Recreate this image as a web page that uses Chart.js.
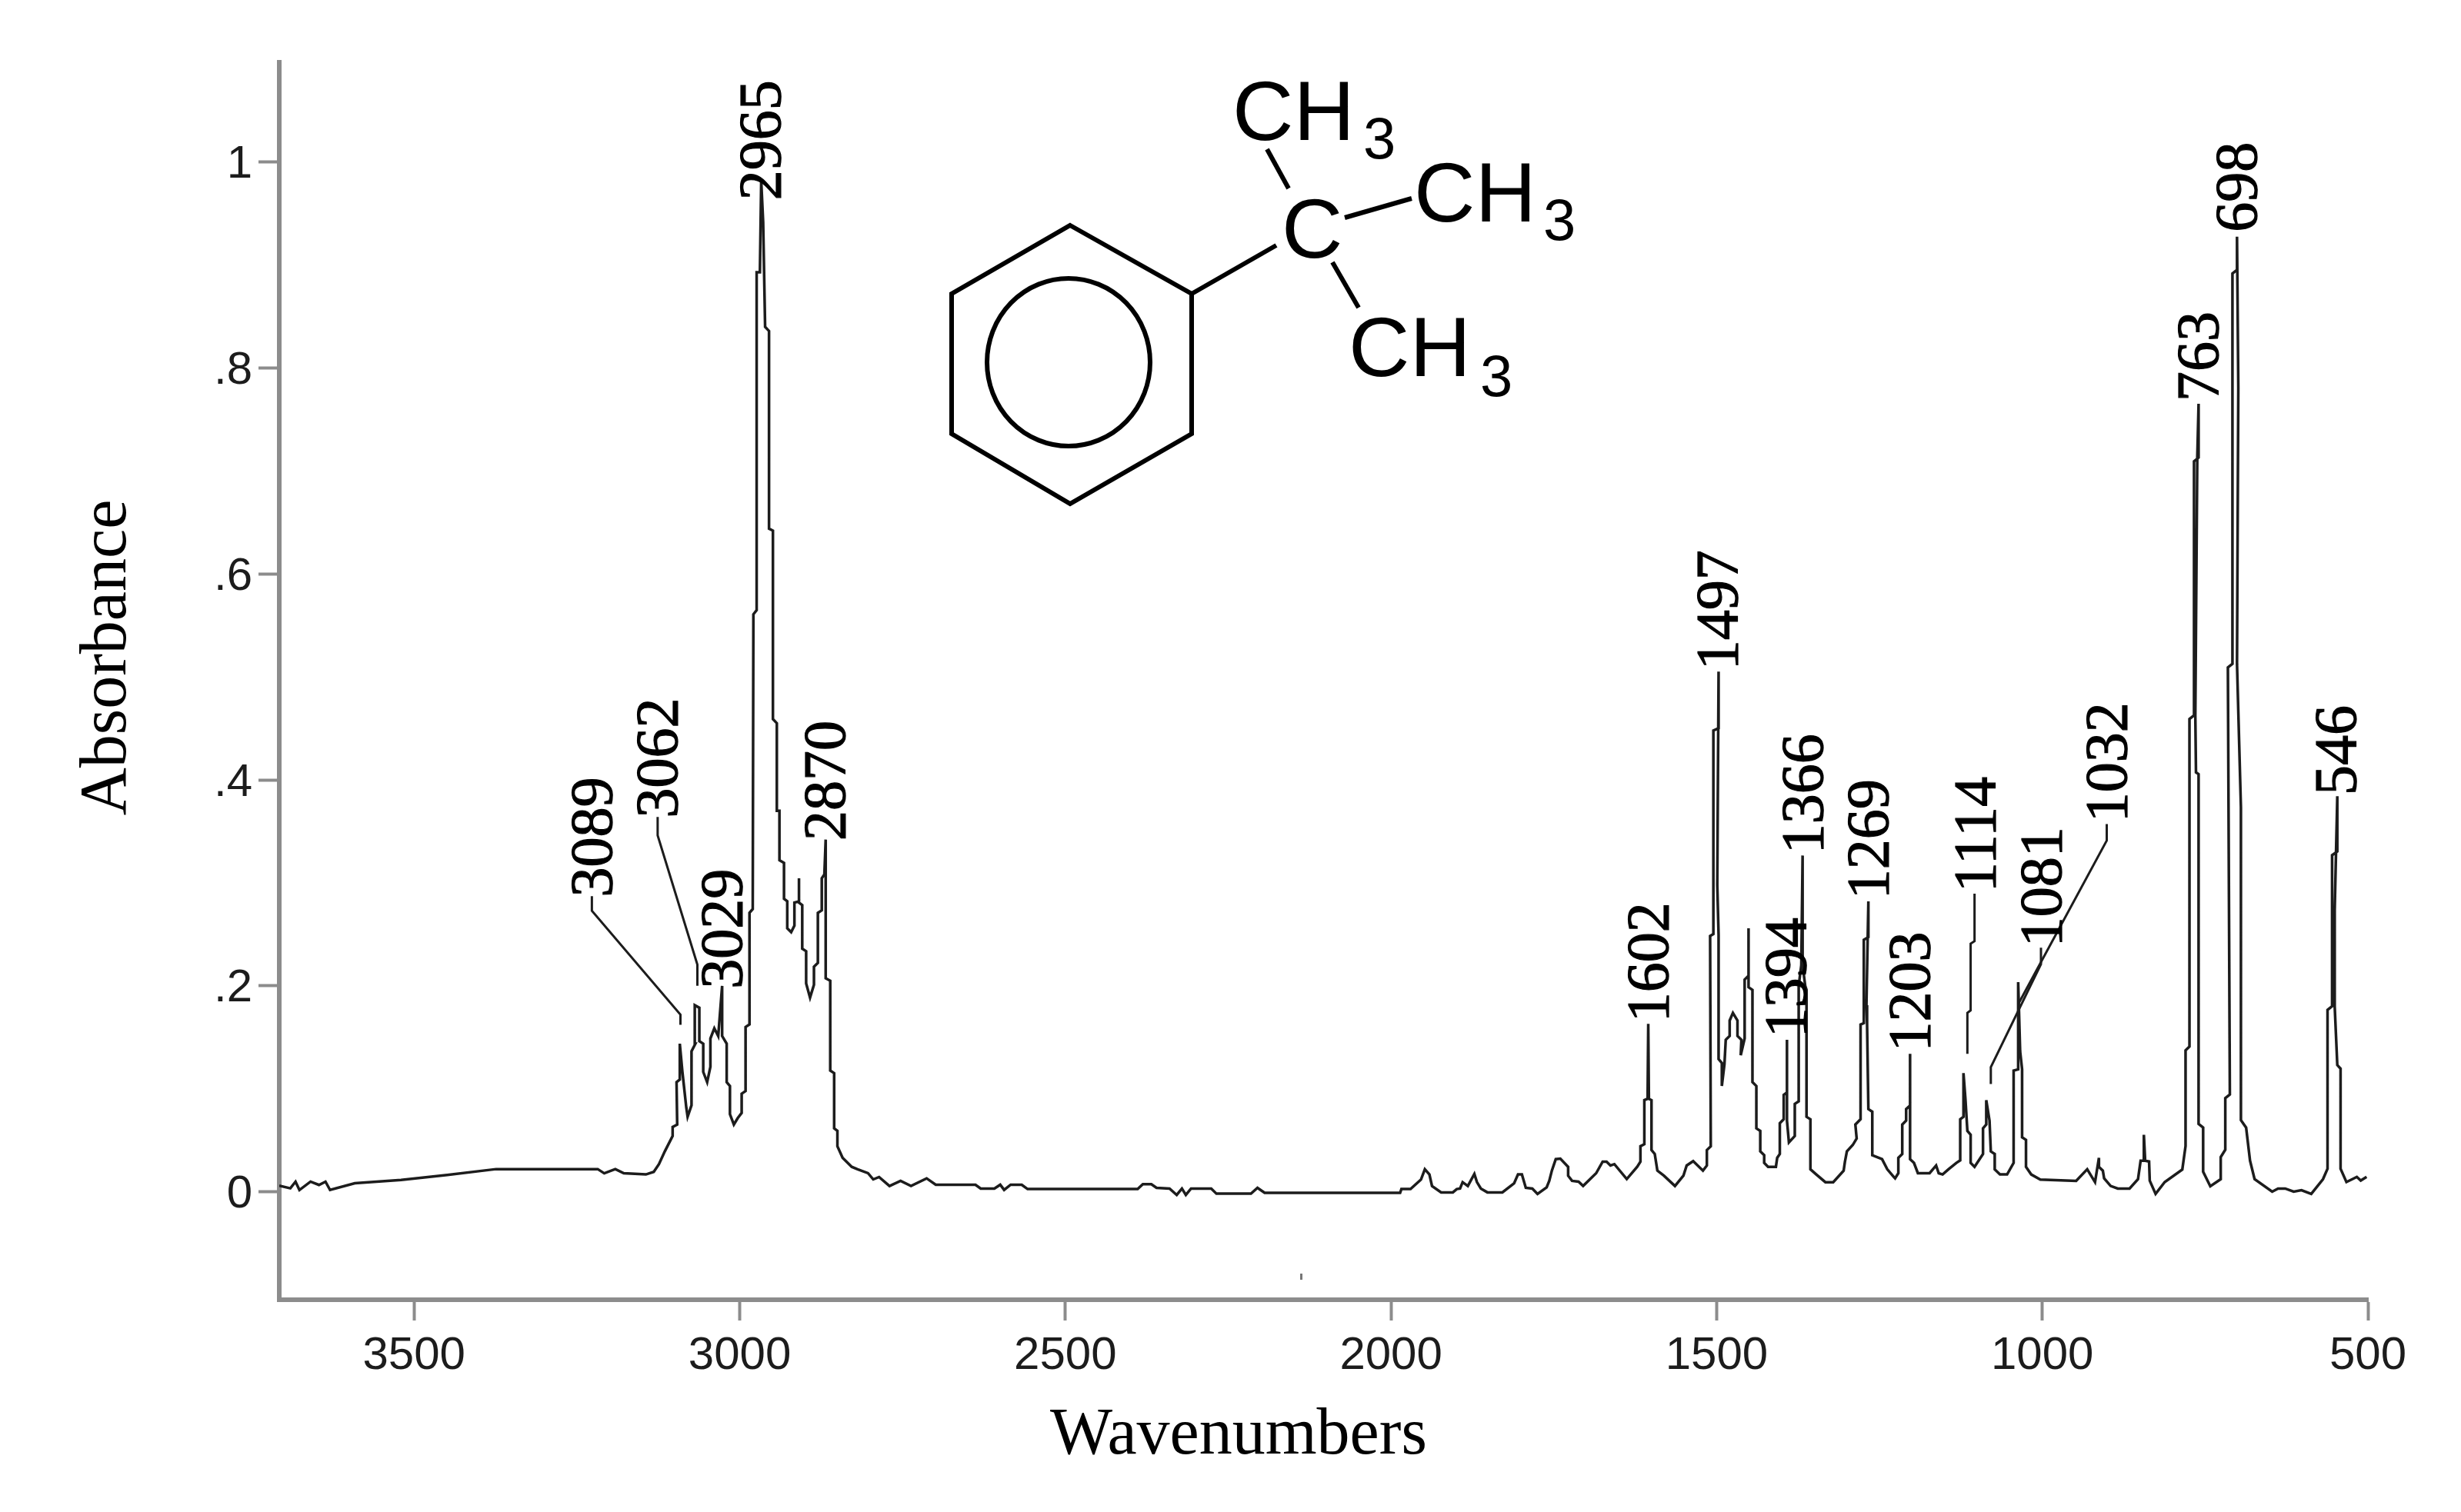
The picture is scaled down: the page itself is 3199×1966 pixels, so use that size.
<!DOCTYPE html>
<html>
<head>
<meta charset="utf-8">
<title>Absorbance spectrum</title>
<script src="https://cdn.jsdelivr.net/npm/chart.js@4"></script>
<style>
    html, body { margin: 0; background: #fff; }
    canvas { display: block; }
</style>
</head>
<body>
<canvas id="spectrum" width="3199" height="1966"></canvas>
<script>
// spectrum trace (same count per line in both arrays)
const wavenumbers = [
    3707, 3690, 3682, 3676, 3659, 3646, 3636, 3629, 3591, 3520, 3449, 3374,
    3218, 3208, 3191, 3178, 3144, 3132, 3124, 3115, 3103, 3103, 3096, 3097,
    3092, 3092, 3088, 3082, 3080, 3074, 3074, 3068, 3069, 3062, 3062, 3056,
    3056, 3050, 3045, 3045, 3039, 3033, 3027, 3027, 3020, 3020, 3015, 3015,
    3009, 3003, 2997, 2997, 2991, 2991, 2985, 2985, 2980, 2979, 2974, 2974,
    2969, 2967, 2964, 2961, 2955, 2955, 2949, 2949, 2943, 2943, 2939, 2939,
    2932, 2932, 2927, 2927, 2921, 2916, 2916, 2909, 2909, 2909, 2904, 2904,
    2898, 2898, 2892, 2886, 2886, 2880, 2880, 2874, 2874, 2870, 2868, 2868,
    2861, 2861, 2855, 2855, 2850, 2850, 2842, 2828, 2819, 2803, 2795, 2786,
    2770, 2753, 2737, 2713, 2699, 2638, 2630, 2609, 2600, 2594, 2584, 2567,
    2558, 2389, 2381, 2368, 2360, 2340, 2329, 2321, 2315, 2307, 2276, 2268,
    2215, 2205, 2194, 1986, 1984, 1970, 1954, 1948, 1941, 1937, 1923, 1905,
    1899, 1894, 1890, 1882, 1872, 1868, 1862, 1852, 1829, 1811, 1805, 1799,
    1793, 1783, 1775, 1761, 1757, 1753, 1747, 1740, 1728, 1728, 1722, 1712,
    1705, 1685, 1675, 1669, 1663, 1657, 1638, 1622, 1617, 1617, 1611, 1611,
    1606, 1605, 1604, 1600, 1600, 1595, 1591, 1581, 1564, 1551, 1546, 1536,
    1521, 1515, 1515, 1509, 1510, 1505, 1505, 1497, 1497, 1499, 1497, 1497,
    1492, 1492, 1488, 1486, 1480, 1480, 1475, 1468, 1468, 1462, 1463, 1457,
    1457, 1451, 1451, 1451, 1445, 1445, 1439, 1439, 1433, 1433, 1427, 1427,
    1421, 1409, 1407, 1403, 1403, 1397, 1397, 1392, 1392, 1392, 1389, 1380,
    1380, 1374, 1374, 1370, 1368, 1368, 1364, 1362, 1362, 1356, 1356, 1347,
    1333, 1321, 1305, 1303, 1300, 1291, 1285, 1287, 1279, 1279, 1274, 1274,
    1267, 1267, 1270, 1269, 1267, 1261, 1261, 1246, 1238, 1228, 1226, 1221,
    1221, 1215, 1215, 1209, 1209, 1203, 1203, 1203, 1203, 1197, 1191, 1173,
    1163, 1159, 1153, 1144, 1132, 1126, 1126, 1121, 1121, 1118, 1115, 1110,
    1110, 1104, 1091, 1091, 1086, 1086, 1081, 1079, 1073, 1073, 1065, 1054,
    1044, 1044, 1037, 1037, 1034, 1031, 1031, 1025, 1025, 1017, 1003, 948,
    931, 919, 913, 913, 907, 905, 895, 884, 866, 853, 849, 844,
    844, 842, 836, 835, 826, 812, 785, 780, 780, 774, 774, 767,
    767, 760, 760, 762, 765, 764, 760, 760, 753, 753, 742, 726,
    726, 719, 719, 712, 715, 708, 708, 701, 701, 699, 701, 695,
    695, 687, 681, 674, 647, 638, 627, 614, 602, 587, 569, 562,
    562, 555, 555, 547, 547, 551, 551, 547, 542, 542, 533, 524,
    517, 511, 502,
];
const absorbance = [
    .0057, .0032, .0097, .0016, .0097, .0065, .0097, .0016, .0081, .0113, .0162, .0219,
    .0219, .0178, .0219, .0178, .0167, .0192, .0267, .0391, .054, .0628, .0652, .1064,
    .1089, .1437, .1163, .0815, .0727, .0839, .1363, .1437, .1811, .1786, .1462, .1437,
    .1163, .1064, .1213, .1487, .1587, .1512, .1998, .1512, .1437, .1064, .1026, .0752,
    .0652, .0715, .0765, .0951, .0977, .1599, .1624, .2708, .2745, .5608, .5648, .893,
    .893, .982, .942, .84, .836, .644, .642, .459, .455, .37, .37, .3219,
    .3194, .2845, .282, .2558, .2521, .2584, .2808, .282, .3044, .2808, .2783, .236,
    .2335, .2023, .1885, .201, .2185, .2222, .2708, .2733, .3044, .3082, .342, .2073,
    .2048, .1176, .1151, .0615, .059, .0441, .0329, .0241, .0217, .0179, .0119, .0142,
    .0055, .0105, .0055, .0129, .0067, .0067, .003, .003, .0067, .0017, .0067, .0067,
    .0025, .0025, .0072, .0072, .0037, .003, -.0032, .003, -.0032, .003, .003, -.002,
    -.002, .0037, -.0012, -.0012, .0025, .0025, .0117, .0217, .0167, .0055, -.0007, -.0007,
    .0025, .003, .0092, .0055, .0172, .0092, .003, -.0007, -.0007, .008, .0167, .0167,
    .0037, .003, -.0022, .0042, .0105, .0204, .0316, .0321, .0241, .0155, .0105, .0097,
    .0055, .0179, .0291, .0291, .0254, .0267, .0122, .0241, .0291, .0441, .0461, .0889,
    .0902, .163, .0902, .0889, .0404, .0366, .0204, .0155, .0055, .0155, .0254, .0297,
    .0204, .0254, .0404, .0441, .2484, .2503, .4479, .4502, .5052, .2978, .2496, .1288,
    .125, .1026, .1238, .1475, .1512, .1662, .1736, .1662, .1512, .1475, .1325, .1487,
    .206, .2098, .2558, .1986, .196, .1064, .1026, .0615, .059, .0391, .0354, .0279,
    .0241, .0241, .0329, .0366, .0665, .0703, .094, .0964, .1475, .069, .0478, .054,
    .0852, .0877, .2, .22, .3265, .22, .2, .196, .0727, .0703, .0217, .0167,
    .0092, .0092, .0204, .0291, .0391, .0453, .0516, .0652, .0703, .1624, .1637, .2446,
    .2472, .282, .1811, .1624, .0802, .0777, .0354, .0316, .0217, .0142, .0129, .0179,
    .0329, .0366, .0652, .069, .0802, .0837, .1338, .0566, .0316, .0279, .0179, .0179,
    .0254, .0179, .0167, .0217, .0279, .0304, .0703, .0727, .1151, .09, .059, .0553,
    .0279, .0241, .0366, .0615, .0652, .0889, .069, .0391, .0366, .0217, .0167, .0167,
    .0279, .1176, .1188, .2035, .1363, .1188, .0528, .0503, .0241, .0167, .0117, .0105,
    .0217, .0092, .0329, .0241, .0204, .0129, .0055, .003, .003, .0121, .03, .03,
    .0552, .03, .0293, .0107, -.0022, .0093, .0215, .0443, .1373, .1409, .4591, .4626,
    .7094, .713, .7653, .713, .4626, .4073, .4055, .0658, .0622, .0194, .0052, .0121,
    .0336, .0407, .0908, .0944, .5092, .5127, .8919, .8954, .9276, .781, .5127, .3733,
    .0695, .0622, .03, .0121, 0, .003, .003, 0, .0014, -.0022, .0121, .0222,
    .1766, .1801, .3268, .3304, .3841, .2732, .18, .123, .1195, .0222, .0093, .0121,
    .0143, .0108, .0143,
];

// peak annotations: text plus where its foot sits on the axes
const peakLabels = ['3089', '3062', '3029', '2965', '2870', '1602', '1497', '1394', '1366', '1269', '1203', '1114', '1081', '1032', '763', '698', '546'];
const labelWn = [3227, 3126, 3027, 2968, 2869, 1605, 1499, 1393, 1368, 1267, 1203, 1103, 1001, 901, 760, 701, 549];
const labelAbs = [.289, .366, .2, .966, .344, .1674, .5097, .1525, .3311, .287, .139, .2937, .2407, .3617, .7706, .935, .388];

// leader lines that do not run straight into the trace
const leader3089 = [[3227, .287], [3227, .2728], [3091, .172], [3091, .162]];
const leader3062 = [[3126, .364], [3126, .346], [3065, .2205], [3065, .2]];
const leader1114 = [[1115, .1338], [1115, .1736], [1110, .1761], [1110, .2408], [1104, .2433], [1104, .2895]];
const leader1081 = [[1002, .237], [1002, .221], [1079, .121], [1079, .1046]];
const leader1032 = [[901, .357], [901, .341], [1037, .182]];
const leaders = [leader3089, leader3062, leader1114, leader1081, leader1032];

const xTicks = [3500, 3000, 2500, 2000, 1500, 1000, 500];
const yTicks = [0, .2, .4, .6, .8, 1];
const yTickText = ['0', '.2', '.4', '.6', '.8', '1'];

const INK = '#1c1c1c';
const AXIS = '#8c8c8c';
const SERIF = '"Liberation Serif", serif';
const SANS = '"Liberation Sans", sans-serif';

function drawMolecule(ctx) {
    ctx.save();
    ctx.strokeStyle = '#000';
    ctx.lineWidth = 6;
    ctx.lineJoin = 'miter';

    ctx.beginPath();
    ctx.moveTo(1391, 293);
    ctx.lineTo(1549, 382);
    ctx.lineTo(1549, 564);
    ctx.lineTo(1391, 655);
    ctx.lineTo(1237, 564);
    ctx.lineTo(1237, 382);
    ctx.closePath();
    ctx.stroke();

    ctx.beginPath();
    ctx.ellipse(1389, 471, 106, 109, 0, 0, Math.PI * 2);
    ctx.stroke();

    [[1549, 382, 1659, 319], [1647, 194, 1675, 245], [1748, 283, 1835, 258], [1732, 341, 1766, 400]].forEach(([a, b, c, d]) => {
        ctx.beginPath();
        ctx.moveTo(a, b);
        ctx.lineTo(c, d);
        ctx.stroke();
    });

    ctx.fillStyle = '#000';
    ctx.textBaseline = 'alphabetic';
    ctx.textAlign = 'left';
    ctx.font = `110px ${SANS}`;
    ctx.fillText('C', 1666, 335);
    ctx.fillText('CH', 1602, 182);
    ctx.fillText('CH', 1838, 288);
    ctx.fillText('CH', 1753, 489);
    ctx.font = `76px ${SANS}`;
    ctx.fillText('3', 1772, 206);
    ctx.fillText('3', 2006, 312);
    ctx.fillText('3', 1924, 515);
    ctx.restore();
}

const annotations = {
    id: 'annotations',
    afterDraw(chart) {
        const { ctx, scales } = chart;

        ctx.save();
        ctx.fillStyle = '#000';
        ctx.strokeStyle = '#000';
        ctx.lineWidth = 1.2;
        ctx.font = `78px ${SERIF}`;
        ctx.textAlign = 'left';
        ctx.textBaseline = 'middle';
        peakLabels.forEach((text, i) => {
            ctx.save();
            ctx.translate(scales.x.getPixelForValue(labelWn[i]), scales.y.getPixelForValue(labelAbs[i]));
            ctx.rotate(-Math.PI / 2);
            ctx.fillText(text, -4, 5);
            ctx.strokeText(text, -4, 5);
            ctx.restore();
        });

        // axis titles sit off-centre in the original
        ctx.font = `86px ${SERIF}`;
        ctx.textAlign = 'center';
        ctx.textBaseline = 'alphabetic';
        ctx.fillText('Wavenumbers', 1610, 1890);
        ctx.save();
        ctx.translate(163, 855);
        ctx.rotate(-Math.PI / 2);
        ctx.fillText('Absorbance', 0, 0);
        ctx.restore();

        // speck from the scan
        ctx.fillStyle = '#777';
        ctx.fillRect(1690, 1656, 3, 8);
        ctx.restore();

        drawMolecule(ctx);
    },
};

new Chart(document.getElementById('spectrum'), {
    type: 'scatter',
    data: {
        datasets: [
            {
                label: 'Absorbance',
                data: wavenumbers.map((x, i) => ({ x, y: absorbance[i] })),
                showLine: true,
                borderColor: INK,
                borderWidth: 3.5,
                pointRadius: 0,
                tension: 0,
            },
            ...leaders.map((points, i) => ({
                label: `leader ${i}`,
                data: points.map(([x, y]) => ({ x, y })),
                showLine: true,
                borderColor: INK,
                borderWidth: 3,
                pointRadius: 0,
                tension: 0,
            })),
        ],
    },
    options: {
        responsive: false,
        animation: false,
        devicePixelRatio: 1,
        layout: { padding: { left: 0, top: 81, right: 121, bottom: 0 } },
        plugins: { legend: { display: false }, tooltip: { enabled: false } },
        scales: {
            x: {
                type: 'linear',
                reverse: true,
                min: 500,
                max: 3707,
                afterBuildTicks(scale) { scale.ticks = xTicks.map((value) => ({ value })); },
                afterFit(scale) { scale.height = 276; },
                border: { color: AXIS, width: 6 },
                grid: { drawOnChartArea: false, color: AXIS, tickColor: AXIS, tickLength: 27, tickWidth: 4 },
                ticks: {
                    color: INK,
                    font: { family: SANS, size: 60 },
                    padding: 10,
                    maxRotation: 0,
                    autoSkip: false,
                    callback(value) { return String(value); },
                },
            },
            y: {
                type: 'linear',
                min: -0.105,
                max: 1.097,
                afterBuildTicks(scale) { scale.ticks = yTicks.map((value) => ({ value })); },
                afterFit(scale) { scale.width = 363; },
                border: { color: AXIS, width: 6 },
                grid: { drawOnChartArea: false, color: AXIS, tickColor: AXIS, tickLength: 27, tickWidth: 4 },
                ticks: {
                    color: INK,
                    font: { family: SANS, size: 60 },
                    padding: 8,
                    labelOffset: 4,
                    autoSkip: false,
                    callback(value) { return yTickText[yTicks.indexOf(value)]; },
                },
            },
        },
    },
    plugins: [annotations],
});
</script>
</body>
</html>
